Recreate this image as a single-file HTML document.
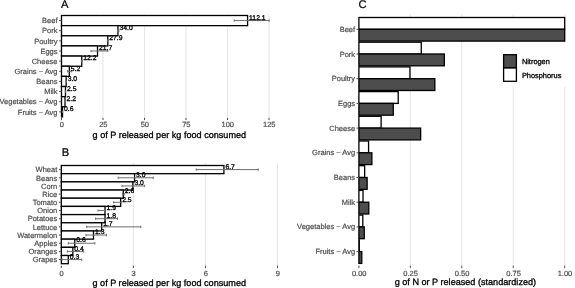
<!DOCTYPE html>
<html><head><meta charset="utf-8"><style>
html,body{margin:0;padding:0;background:#fff;width:575px;height:288px;overflow:hidden}
svg{display:block;will-change:transform}
text{font-family:"Liberation Sans", sans-serif;text-rendering:geometricPrecision}
</style></head><body>
<svg width="575" height="288" viewBox="0 0 575 288">
<rect x="0" y="0" width="575" height="288" fill="#fff"/>
<line x1="103.00" y1="14.30" x2="103.00" y2="117.80" stroke="#E6E6E6" stroke-width="1.1"/>
<line x1="144.50" y1="14.30" x2="144.50" y2="117.80" stroke="#E6E6E6" stroke-width="1.1"/>
<line x1="186.00" y1="14.30" x2="186.00" y2="117.80" stroke="#E6E6E6" stroke-width="1.1"/>
<line x1="227.50" y1="14.30" x2="227.50" y2="117.80" stroke="#E6E6E6" stroke-width="1.1"/>
<line x1="269.00" y1="14.30" x2="269.00" y2="117.80" stroke="#E6E6E6" stroke-width="1.1"/>
<rect x="61.50" y="15.50" width="186.09" height="10.14" fill="#fff" stroke="#000" stroke-width="1.3"/>
<rect x="61.50" y="25.64" width="56.44" height="10.14" fill="#fff" stroke="#000" stroke-width="1.3"/>
<rect x="61.50" y="35.79" width="46.31" height="10.14" fill="#fff" stroke="#000" stroke-width="1.3"/>
<rect x="61.50" y="45.94" width="36.02" height="10.14" fill="#fff" stroke="#000" stroke-width="1.3"/>
<rect x="61.50" y="56.08" width="20.25" height="10.14" fill="#fff" stroke="#000" stroke-width="1.3"/>
<rect x="61.50" y="66.22" width="7.80" height="10.14" fill="#fff" stroke="#000" stroke-width="1.3"/>
<rect x="61.50" y="76.37" width="4.65" height="10.14" fill="#fff" stroke="#000" stroke-width="1.3"/>
<rect x="61.50" y="86.52" width="3.98" height="10.14" fill="#fff" stroke="#000" stroke-width="1.3"/>
<rect x="61.50" y="96.66" width="3.49" height="10.14" fill="#fff" stroke="#000" stroke-width="1.3"/>
<rect x="61.50" y="106.80" width="1.00" height="10.14" fill="#fff" stroke="#000" stroke-width="1.3"/>
<line x1="234.31" y1="20.57" x2="269.17" y2="20.57" stroke="#6E6E6E" stroke-width="1.0"/>
<line x1="234.31" y1="19.37" x2="234.31" y2="21.77" stroke="#6E6E6E" stroke-width="1.0"/>
<line x1="269.17" y1="19.37" x2="269.17" y2="21.77" stroke="#6E6E6E" stroke-width="1.0"/>
<text x="249.09" y="19.77" font-size="6.8" fill="#000" stroke="#000" stroke-width="0.3" text-anchor="start" font-weight="normal">112.1</text>
<line x1="59.10" y1="20.57" x2="61.50" y2="20.57" stroke="#4D4D4D" stroke-width="1.0"/>
<text x="57.50" y="23.32" font-size="7.5" fill="#4D4D4D" stroke="#4D4D4D" stroke-width="0.2" text-anchor="end" font-weight="normal">Beef</text>
<line x1="117.44" y1="30.72" x2="118.94" y2="30.72" stroke="#6E6E6E" stroke-width="1.0"/>
<line x1="117.44" y1="29.52" x2="117.44" y2="31.92" stroke="#6E6E6E" stroke-width="1.0"/>
<line x1="118.94" y1="29.52" x2="118.94" y2="31.92" stroke="#6E6E6E" stroke-width="1.0"/>
<text x="119.44" y="29.92" font-size="6.8" fill="#000" stroke="#000" stroke-width="0.3" text-anchor="start" font-weight="normal">34.0</text>
<line x1="59.10" y1="30.72" x2="61.50" y2="30.72" stroke="#4D4D4D" stroke-width="1.0"/>
<text x="57.50" y="33.47" font-size="7.5" fill="#4D4D4D" stroke="#4D4D4D" stroke-width="0.2" text-anchor="end" font-weight="normal">Pork</text>
<line x1="107.32" y1="40.86" x2="108.31" y2="40.86" stroke="#6E6E6E" stroke-width="1.0"/>
<line x1="107.32" y1="39.66" x2="107.32" y2="42.06" stroke="#6E6E6E" stroke-width="1.0"/>
<line x1="108.31" y1="39.66" x2="108.31" y2="42.06" stroke="#6E6E6E" stroke-width="1.0"/>
<text x="109.31" y="40.06" font-size="6.8" fill="#000" stroke="#000" stroke-width="0.3" text-anchor="start" font-weight="normal">27.9</text>
<line x1="59.10" y1="40.86" x2="61.50" y2="40.86" stroke="#4D4D4D" stroke-width="1.0"/>
<text x="57.50" y="43.61" font-size="7.5" fill="#4D4D4D" stroke="#4D4D4D" stroke-width="0.2" text-anchor="end" font-weight="normal">Poultry</text>
<line x1="91.05" y1="51.01" x2="107.81" y2="51.01" stroke="#6E6E6E" stroke-width="1.0"/>
<line x1="91.05" y1="49.81" x2="91.05" y2="52.21" stroke="#6E6E6E" stroke-width="1.0"/>
<line x1="107.81" y1="49.81" x2="107.81" y2="52.21" stroke="#6E6E6E" stroke-width="1.0"/>
<text x="99.02" y="50.21" font-size="6.8" fill="#000" stroke="#000" stroke-width="0.3" text-anchor="start" font-weight="normal">21.7</text>
<line x1="59.10" y1="51.01" x2="61.50" y2="51.01" stroke="#4D4D4D" stroke-width="1.0"/>
<text x="57.50" y="53.76" font-size="7.5" fill="#4D4D4D" stroke="#4D4D4D" stroke-width="0.2" text-anchor="end" font-weight="normal">Eggs</text>
<line x1="81.42" y1="61.15" x2="82.25" y2="61.15" stroke="#6E6E6E" stroke-width="1.0"/>
<line x1="81.42" y1="59.95" x2="81.42" y2="62.35" stroke="#6E6E6E" stroke-width="1.0"/>
<line x1="82.25" y1="59.95" x2="82.25" y2="62.35" stroke="#6E6E6E" stroke-width="1.0"/>
<text x="83.25" y="60.35" font-size="6.8" fill="#000" stroke="#000" stroke-width="0.3" text-anchor="start" font-weight="normal">12.2</text>
<line x1="59.10" y1="61.15" x2="61.50" y2="61.15" stroke="#4D4D4D" stroke-width="1.0"/>
<text x="57.50" y="63.90" font-size="7.5" fill="#4D4D4D" stroke="#4D4D4D" stroke-width="0.2" text-anchor="end" font-weight="normal">Cheese</text>
<line x1="67.48" y1="71.30" x2="71.29" y2="71.30" stroke="#6E6E6E" stroke-width="1.0"/>
<line x1="67.48" y1="70.10" x2="67.48" y2="72.50" stroke="#6E6E6E" stroke-width="1.0"/>
<line x1="71.29" y1="70.10" x2="71.29" y2="72.50" stroke="#6E6E6E" stroke-width="1.0"/>
<text x="70.80" y="70.50" font-size="6.8" fill="#000" stroke="#000" stroke-width="0.3" text-anchor="start" font-weight="normal">5.2</text>
<line x1="59.10" y1="71.30" x2="61.50" y2="71.30" stroke="#4D4D4D" stroke-width="1.0"/>
<text x="57.50" y="74.05" font-size="7.5" fill="#4D4D4D" stroke="#4D4D4D" stroke-width="0.2" text-anchor="end" font-weight="normal">Grains − Avg</text>
<line x1="65.82" y1="81.44" x2="66.48" y2="81.44" stroke="#6E6E6E" stroke-width="1.0"/>
<line x1="65.82" y1="80.24" x2="65.82" y2="82.64" stroke="#6E6E6E" stroke-width="1.0"/>
<line x1="66.48" y1="80.24" x2="66.48" y2="82.64" stroke="#6E6E6E" stroke-width="1.0"/>
<text x="67.65" y="80.64" font-size="6.8" fill="#000" stroke="#000" stroke-width="0.3" text-anchor="start" font-weight="normal">3.0</text>
<line x1="59.10" y1="81.44" x2="61.50" y2="81.44" stroke="#4D4D4D" stroke-width="1.0"/>
<text x="57.50" y="84.19" font-size="7.5" fill="#4D4D4D" stroke="#4D4D4D" stroke-width="0.2" text-anchor="end" font-weight="normal">Beans</text>
<line x1="65.32" y1="91.59" x2="65.65" y2="91.59" stroke="#6E6E6E" stroke-width="1.0"/>
<line x1="65.32" y1="90.39" x2="65.32" y2="92.79" stroke="#6E6E6E" stroke-width="1.0"/>
<line x1="65.65" y1="90.39" x2="65.65" y2="92.79" stroke="#6E6E6E" stroke-width="1.0"/>
<text x="66.98" y="90.79" font-size="6.8" fill="#000" stroke="#000" stroke-width="0.3" text-anchor="start" font-weight="normal">2.5</text>
<line x1="59.10" y1="91.59" x2="61.50" y2="91.59" stroke="#4D4D4D" stroke-width="1.0"/>
<text x="57.50" y="94.34" font-size="7.5" fill="#4D4D4D" stroke="#4D4D4D" stroke-width="0.2" text-anchor="end" font-weight="normal">Milk</text>
<line x1="64.65" y1="101.73" x2="65.32" y2="101.73" stroke="#6E6E6E" stroke-width="1.0"/>
<line x1="64.65" y1="100.53" x2="64.65" y2="102.93" stroke="#6E6E6E" stroke-width="1.0"/>
<line x1="65.32" y1="100.53" x2="65.32" y2="102.93" stroke="#6E6E6E" stroke-width="1.0"/>
<text x="66.49" y="100.93" font-size="6.8" fill="#000" stroke="#000" stroke-width="0.3" text-anchor="start" font-weight="normal">2.2</text>
<line x1="59.10" y1="101.73" x2="61.50" y2="101.73" stroke="#4D4D4D" stroke-width="1.0"/>
<text x="57.50" y="104.48" font-size="7.5" fill="#4D4D4D" stroke="#4D4D4D" stroke-width="0.2" text-anchor="end" font-weight="normal">Vegetables − Avg</text>
<line x1="62.33" y1="111.88" x2="62.66" y2="111.88" stroke="#6E6E6E" stroke-width="1.0"/>
<line x1="62.33" y1="110.68" x2="62.33" y2="113.08" stroke="#6E6E6E" stroke-width="1.0"/>
<line x1="62.66" y1="110.68" x2="62.66" y2="113.08" stroke="#6E6E6E" stroke-width="1.0"/>
<text x="64.00" y="111.08" font-size="6.8" fill="#000" stroke="#000" stroke-width="0.3" text-anchor="start" font-weight="normal">0.6</text>
<line x1="59.10" y1="111.88" x2="61.50" y2="111.88" stroke="#4D4D4D" stroke-width="1.0"/>
<text x="57.50" y="114.63" font-size="7.5" fill="#4D4D4D" stroke="#4D4D4D" stroke-width="0.2" text-anchor="end" font-weight="normal">Fruits − Avg</text>
<line x1="61.50" y1="117.80" x2="61.50" y2="120.10" stroke="#4D4D4D" stroke-width="1.0"/>
<text x="61.80" y="127.20" font-size="7.5" fill="#4D4D4D" stroke="#4D4D4D" stroke-width="0.2" text-anchor="middle" font-weight="normal">0</text>
<line x1="103.00" y1="117.80" x2="103.00" y2="120.10" stroke="#4D4D4D" stroke-width="1.0"/>
<text x="103.30" y="127.20" font-size="7.5" fill="#4D4D4D" stroke="#4D4D4D" stroke-width="0.2" text-anchor="middle" font-weight="normal">25</text>
<line x1="144.50" y1="117.80" x2="144.50" y2="120.10" stroke="#4D4D4D" stroke-width="1.0"/>
<text x="144.80" y="127.20" font-size="7.5" fill="#4D4D4D" stroke="#4D4D4D" stroke-width="0.2" text-anchor="middle" font-weight="normal">50</text>
<line x1="186.00" y1="117.80" x2="186.00" y2="120.10" stroke="#4D4D4D" stroke-width="1.0"/>
<text x="186.30" y="127.20" font-size="7.5" fill="#4D4D4D" stroke="#4D4D4D" stroke-width="0.2" text-anchor="middle" font-weight="normal">75</text>
<line x1="227.50" y1="117.80" x2="227.50" y2="120.10" stroke="#4D4D4D" stroke-width="1.0"/>
<text x="227.80" y="127.20" font-size="7.5" fill="#4D4D4D" stroke="#4D4D4D" stroke-width="0.2" text-anchor="middle" font-weight="normal">100</text>
<line x1="269.00" y1="117.80" x2="269.00" y2="120.10" stroke="#4D4D4D" stroke-width="1.0"/>
<text x="269.30" y="127.20" font-size="7.5" fill="#4D4D4D" stroke="#4D4D4D" stroke-width="0.2" text-anchor="middle" font-weight="normal">125</text>
<text x="169.35" y="137.60" font-size="9.1" fill="#000" stroke="#000" stroke-width="0.3" text-anchor="middle" font-weight="normal">g of P released per kg food consumed</text>
<text x="61.00" y="7.70" font-size="11.2" fill="#000" stroke="#000" stroke-width="0.2" text-anchor="start" font-weight="normal">A</text>
<line x1="133.36" y1="162.80" x2="133.36" y2="265.60" stroke="#E6E6E6" stroke-width="1.1"/>
<line x1="205.42" y1="162.80" x2="205.42" y2="265.60" stroke="#E6E6E6" stroke-width="1.1"/>
<line x1="277.48" y1="162.80" x2="277.48" y2="265.60" stroke="#E6E6E6" stroke-width="1.1"/>
<rect x="61.30" y="165.50" width="162.62" height="8.18" fill="#fff" stroke="#000" stroke-width="1.3"/>
<rect x="61.30" y="173.68" width="73.26" height="8.18" fill="#fff" stroke="#000" stroke-width="1.3"/>
<rect x="61.30" y="181.87" width="71.58" height="8.18" fill="#fff" stroke="#000" stroke-width="1.3"/>
<rect x="61.30" y="190.05" width="61.97" height="8.18" fill="#fff" stroke="#000" stroke-width="1.3"/>
<rect x="61.30" y="198.23" width="59.33" height="8.18" fill="#fff" stroke="#000" stroke-width="1.3"/>
<rect x="61.30" y="206.41" width="43.72" height="8.18" fill="#fff" stroke="#000" stroke-width="1.3"/>
<rect x="61.30" y="214.60" width="43.72" height="8.18" fill="#fff" stroke="#000" stroke-width="1.3"/>
<rect x="61.30" y="222.78" width="40.35" height="8.18" fill="#fff" stroke="#000" stroke-width="1.3"/>
<rect x="61.30" y="230.96" width="32.19" height="8.18" fill="#fff" stroke="#000" stroke-width="1.3"/>
<rect x="61.30" y="239.15" width="13.45" height="8.18" fill="#fff" stroke="#000" stroke-width="1.3"/>
<rect x="61.30" y="247.33" width="11.53" height="8.18" fill="#fff" stroke="#000" stroke-width="1.3"/>
<rect x="61.30" y="255.51" width="6.97" height="8.18" fill="#fff" stroke="#000" stroke-width="1.3"/>
<line x1="196.17" y1="169.59" x2="258.26" y2="169.59" stroke="#6E6E6E" stroke-width="1.0"/>
<line x1="196.17" y1="168.39" x2="196.17" y2="170.79" stroke="#6E6E6E" stroke-width="1.0"/>
<line x1="258.26" y1="168.39" x2="258.26" y2="170.79" stroke="#6E6E6E" stroke-width="1.0"/>
<text x="225.42" y="168.79" font-size="6.8" fill="#000" stroke="#000" stroke-width="0.3" text-anchor="start" font-weight="normal">6.7</text>
<line x1="58.90" y1="169.59" x2="61.30" y2="169.59" stroke="#4D4D4D" stroke-width="1.0"/>
<text x="57.30" y="172.34" font-size="7.5" fill="#4D4D4D" stroke="#4D4D4D" stroke-width="0.2" text-anchor="end" font-weight="normal">Wheat</text>
<line x1="118.23" y1="177.77" x2="153.30" y2="177.77" stroke="#6E6E6E" stroke-width="1.0"/>
<line x1="118.23" y1="176.57" x2="118.23" y2="178.97" stroke="#6E6E6E" stroke-width="1.0"/>
<line x1="153.30" y1="176.57" x2="153.30" y2="178.97" stroke="#6E6E6E" stroke-width="1.0"/>
<text x="136.06" y="176.97" font-size="6.8" fill="#000" stroke="#000" stroke-width="0.3" text-anchor="start" font-weight="normal">3.0</text>
<line x1="58.90" y1="177.77" x2="61.30" y2="177.77" stroke="#4D4D4D" stroke-width="1.0"/>
<text x="57.30" y="180.52" font-size="7.5" fill="#4D4D4D" stroke="#4D4D4D" stroke-width="0.2" text-anchor="end" font-weight="normal">Beans</text>
<line x1="122.07" y1="185.96" x2="144.65" y2="185.96" stroke="#6E6E6E" stroke-width="1.0"/>
<line x1="122.07" y1="184.76" x2="122.07" y2="187.16" stroke="#6E6E6E" stroke-width="1.0"/>
<line x1="144.65" y1="184.76" x2="144.65" y2="187.16" stroke="#6E6E6E" stroke-width="1.0"/>
<text x="134.38" y="185.16" font-size="6.8" fill="#000" stroke="#000" stroke-width="0.3" text-anchor="start" font-weight="normal">3.0</text>
<line x1="58.90" y1="185.96" x2="61.30" y2="185.96" stroke="#4D4D4D" stroke-width="1.0"/>
<text x="57.30" y="188.71" font-size="7.5" fill="#4D4D4D" stroke="#4D4D4D" stroke-width="0.2" text-anchor="end" font-weight="normal">Corn</text>
<line x1="122.55" y1="194.14" x2="124.23" y2="194.14" stroke="#6E6E6E" stroke-width="1.0"/>
<line x1="122.55" y1="192.94" x2="122.55" y2="195.34" stroke="#6E6E6E" stroke-width="1.0"/>
<line x1="124.23" y1="192.94" x2="124.23" y2="195.34" stroke="#6E6E6E" stroke-width="1.0"/>
<text x="124.77" y="193.34" font-size="6.8" fill="#000" stroke="#000" stroke-width="0.3" text-anchor="start" font-weight="normal">2.6</text>
<line x1="58.90" y1="194.14" x2="61.30" y2="194.14" stroke="#4D4D4D" stroke-width="1.0"/>
<text x="57.30" y="196.89" font-size="7.5" fill="#4D4D4D" stroke="#4D4D4D" stroke-width="0.2" text-anchor="end" font-weight="normal">Rice</text>
<line x1="113.66" y1="202.32" x2="121.35" y2="202.32" stroke="#6E6E6E" stroke-width="1.0"/>
<line x1="113.66" y1="201.12" x2="113.66" y2="203.52" stroke="#6E6E6E" stroke-width="1.0"/>
<line x1="121.35" y1="201.12" x2="121.35" y2="203.52" stroke="#6E6E6E" stroke-width="1.0"/>
<text x="122.13" y="201.52" font-size="6.8" fill="#000" stroke="#000" stroke-width="0.3" text-anchor="start" font-weight="normal">2.5</text>
<line x1="58.90" y1="202.32" x2="61.30" y2="202.32" stroke="#4D4D4D" stroke-width="1.0"/>
<text x="57.30" y="205.07" font-size="7.5" fill="#4D4D4D" stroke="#4D4D4D" stroke-width="0.2" text-anchor="end" font-weight="normal">Tomato</text>
<line x1="98.05" y1="210.51" x2="105.02" y2="210.51" stroke="#6E6E6E" stroke-width="1.0"/>
<line x1="98.05" y1="209.31" x2="98.05" y2="211.71" stroke="#6E6E6E" stroke-width="1.0"/>
<line x1="105.02" y1="209.31" x2="105.02" y2="211.71" stroke="#6E6E6E" stroke-width="1.0"/>
<text x="106.52" y="209.71" font-size="6.8" fill="#000" stroke="#000" stroke-width="0.3" text-anchor="start" font-weight="normal">1.9</text>
<line x1="58.90" y1="210.51" x2="61.30" y2="210.51" stroke="#4D4D4D" stroke-width="1.0"/>
<text x="57.30" y="213.26" font-size="7.5" fill="#4D4D4D" stroke="#4D4D4D" stroke-width="0.2" text-anchor="end" font-weight="normal">Onion</text>
<line x1="95.65" y1="218.69" x2="117.51" y2="218.69" stroke="#6E6E6E" stroke-width="1.0"/>
<line x1="95.65" y1="217.49" x2="95.65" y2="219.89" stroke="#6E6E6E" stroke-width="1.0"/>
<line x1="117.51" y1="217.49" x2="117.51" y2="219.89" stroke="#6E6E6E" stroke-width="1.0"/>
<text x="106.52" y="217.89" font-size="6.8" fill="#000" stroke="#000" stroke-width="0.3" text-anchor="start" font-weight="normal">1.8</text>
<line x1="58.90" y1="218.69" x2="61.30" y2="218.69" stroke="#4D4D4D" stroke-width="1.0"/>
<text x="57.30" y="221.44" font-size="7.5" fill="#4D4D4D" stroke="#4D4D4D" stroke-width="0.2" text-anchor="end" font-weight="normal">Potatoes</text>
<line x1="86.76" y1="226.87" x2="140.81" y2="226.87" stroke="#6E6E6E" stroke-width="1.0"/>
<line x1="86.76" y1="225.67" x2="86.76" y2="228.07" stroke="#6E6E6E" stroke-width="1.0"/>
<line x1="140.81" y1="225.67" x2="140.81" y2="228.07" stroke="#6E6E6E" stroke-width="1.0"/>
<text x="103.15" y="226.07" font-size="6.8" fill="#000" stroke="#000" stroke-width="0.3" text-anchor="start" font-weight="normal">1.7</text>
<line x1="58.90" y1="226.87" x2="61.30" y2="226.87" stroke="#4D4D4D" stroke-width="1.0"/>
<text x="57.30" y="229.62" font-size="7.5" fill="#4D4D4D" stroke="#4D4D4D" stroke-width="0.2" text-anchor="end" font-weight="normal">Lettuce</text>
<line x1="86.04" y1="235.06" x2="106.46" y2="235.06" stroke="#6E6E6E" stroke-width="1.0"/>
<line x1="86.04" y1="233.86" x2="86.04" y2="236.26" stroke="#6E6E6E" stroke-width="1.0"/>
<line x1="106.46" y1="233.86" x2="106.46" y2="236.26" stroke="#6E6E6E" stroke-width="1.0"/>
<text x="94.99" y="234.26" font-size="6.8" fill="#000" stroke="#000" stroke-width="0.3" text-anchor="start" font-weight="normal">1.3</text>
<line x1="58.90" y1="235.06" x2="61.30" y2="235.06" stroke="#4D4D4D" stroke-width="1.0"/>
<text x="57.30" y="237.81" font-size="7.5" fill="#4D4D4D" stroke="#4D4D4D" stroke-width="0.2" text-anchor="end" font-weight="normal">Watermelon</text>
<line x1="68.27" y1="243.24" x2="94.93" y2="243.24" stroke="#6E6E6E" stroke-width="1.0"/>
<line x1="68.27" y1="242.04" x2="68.27" y2="244.44" stroke="#6E6E6E" stroke-width="1.0"/>
<line x1="94.93" y1="242.04" x2="94.93" y2="244.44" stroke="#6E6E6E" stroke-width="1.0"/>
<text x="76.25" y="242.44" font-size="6.8" fill="#000" stroke="#000" stroke-width="0.3" text-anchor="start" font-weight="normal">0.6</text>
<line x1="58.90" y1="243.24" x2="61.30" y2="243.24" stroke="#4D4D4D" stroke-width="1.0"/>
<text x="57.30" y="245.99" font-size="7.5" fill="#4D4D4D" stroke="#4D4D4D" stroke-width="0.2" text-anchor="end" font-weight="normal">Apples</text>
<line x1="67.30" y1="251.42" x2="83.64" y2="251.42" stroke="#6E6E6E" stroke-width="1.0"/>
<line x1="67.30" y1="250.22" x2="67.30" y2="252.62" stroke="#6E6E6E" stroke-width="1.0"/>
<line x1="83.64" y1="250.22" x2="83.64" y2="252.62" stroke="#6E6E6E" stroke-width="1.0"/>
<text x="74.33" y="250.62" font-size="6.8" fill="#000" stroke="#000" stroke-width="0.3" text-anchor="start" font-weight="normal">0.4</text>
<line x1="58.90" y1="251.42" x2="61.30" y2="251.42" stroke="#4D4D4D" stroke-width="1.0"/>
<text x="57.30" y="254.17" font-size="7.5" fill="#4D4D4D" stroke="#4D4D4D" stroke-width="0.2" text-anchor="end" font-weight="normal">Oranges</text>
<line x1="62.02" y1="259.60" x2="81.72" y2="259.60" stroke="#6E6E6E" stroke-width="1.0"/>
<line x1="62.02" y1="258.40" x2="62.02" y2="260.80" stroke="#6E6E6E" stroke-width="1.0"/>
<line x1="81.72" y1="258.40" x2="81.72" y2="260.80" stroke="#6E6E6E" stroke-width="1.0"/>
<text x="69.77" y="258.80" font-size="6.8" fill="#000" stroke="#000" stroke-width="0.3" text-anchor="start" font-weight="normal">0.3</text>
<line x1="58.90" y1="259.60" x2="61.30" y2="259.60" stroke="#4D4D4D" stroke-width="1.0"/>
<text x="57.30" y="262.35" font-size="7.5" fill="#4D4D4D" stroke="#4D4D4D" stroke-width="0.2" text-anchor="end" font-weight="normal">Grapes</text>
<line x1="61.30" y1="265.60" x2="61.30" y2="268.10" stroke="#4D4D4D" stroke-width="1.0"/>
<text x="61.60" y="275.50" font-size="7.5" fill="#4D4D4D" stroke="#4D4D4D" stroke-width="0.2" text-anchor="middle" font-weight="normal">0</text>
<line x1="133.36" y1="265.60" x2="133.36" y2="268.10" stroke="#4D4D4D" stroke-width="1.0"/>
<text x="133.66" y="275.50" font-size="7.5" fill="#4D4D4D" stroke="#4D4D4D" stroke-width="0.2" text-anchor="middle" font-weight="normal">3</text>
<line x1="205.42" y1="265.60" x2="205.42" y2="268.10" stroke="#4D4D4D" stroke-width="1.0"/>
<text x="205.72" y="275.50" font-size="7.5" fill="#4D4D4D" stroke="#4D4D4D" stroke-width="0.2" text-anchor="middle" font-weight="normal">6</text>
<line x1="277.48" y1="265.60" x2="277.48" y2="268.10" stroke="#4D4D4D" stroke-width="1.0"/>
<text x="277.78" y="275.50" font-size="7.5" fill="#4D4D4D" stroke="#4D4D4D" stroke-width="0.2" text-anchor="middle" font-weight="normal">9</text>
<text x="169.25" y="285.50" font-size="9.1" fill="#000" stroke="#000" stroke-width="0.3" text-anchor="middle" font-weight="normal">g of P released per kg food consumed</text>
<text x="61.70" y="156.10" font-size="11.2" fill="#000" stroke="#000" stroke-width="0.2" text-anchor="start" font-weight="normal">B</text>
<line x1="410.35" y1="14.50" x2="410.35" y2="265.60" stroke="#E6E6E6" stroke-width="1.1"/>
<line x1="461.80" y1="14.50" x2="461.80" y2="265.60" stroke="#E6E6E6" stroke-width="1.1"/>
<line x1="513.25" y1="14.50" x2="513.25" y2="265.60" stroke="#E6E6E6" stroke-width="1.1"/>
<line x1="564.70" y1="14.50" x2="564.70" y2="265.60" stroke="#E6E6E6" stroke-width="1.1"/>
<rect x="358.90" y="17.50" width="205.80" height="11.80" fill="#fff" stroke="#000" stroke-width="1.3"/>
<rect x="358.90" y="29.30" width="205.80" height="11.80" fill="#4D4D4D" stroke="#000" stroke-width="1.3"/>
<rect x="358.90" y="42.20" width="62.36" height="11.80" fill="#fff" stroke="#000" stroke-width="1.3"/>
<rect x="358.90" y="54.00" width="85.41" height="11.80" fill="#4D4D4D" stroke="#000" stroke-width="1.3"/>
<rect x="358.90" y="66.90" width="51.04" height="11.80" fill="#fff" stroke="#000" stroke-width="1.3"/>
<rect x="358.90" y="78.70" width="75.94" height="11.80" fill="#4D4D4D" stroke="#000" stroke-width="1.3"/>
<rect x="358.90" y="91.60" width="39.31" height="11.80" fill="#fff" stroke="#000" stroke-width="1.3"/>
<rect x="358.90" y="103.40" width="34.37" height="11.80" fill="#4D4D4D" stroke="#000" stroke-width="1.3"/>
<rect x="358.90" y="116.30" width="22.23" height="11.80" fill="#fff" stroke="#000" stroke-width="1.3"/>
<rect x="358.90" y="128.10" width="61.74" height="11.80" fill="#4D4D4D" stroke="#000" stroke-width="1.3"/>
<rect x="358.90" y="141.00" width="9.67" height="11.80" fill="#fff" stroke="#000" stroke-width="1.3"/>
<rect x="358.90" y="152.80" width="12.97" height="11.80" fill="#4D4D4D" stroke="#000" stroke-width="1.3"/>
<rect x="358.90" y="165.70" width="5.76" height="11.80" fill="#fff" stroke="#000" stroke-width="1.3"/>
<rect x="358.90" y="177.50" width="8.23" height="11.80" fill="#4D4D4D" stroke="#000" stroke-width="1.3"/>
<rect x="358.90" y="190.40" width="4.12" height="11.80" fill="#fff" stroke="#000" stroke-width="1.3"/>
<rect x="358.90" y="202.20" width="9.88" height="11.80" fill="#4D4D4D" stroke="#000" stroke-width="1.3"/>
<rect x="358.90" y="215.10" width="3.91" height="11.80" fill="#fff" stroke="#000" stroke-width="1.3"/>
<rect x="358.90" y="226.90" width="5.35" height="11.80" fill="#4D4D4D" stroke="#000" stroke-width="1.3"/>
<rect x="358.90" y="239.80" width="0.41" height="11.80" fill="#fff" stroke="#000" stroke-width="1.3"/>
<rect x="358.90" y="251.60" width="2.88" height="11.80" fill="#4D4D4D" stroke="#000" stroke-width="1.3"/>
<line x1="356.50" y1="29.30" x2="358.90" y2="29.30" stroke="#4D4D4D" stroke-width="1.0"/>
<text x="355.10" y="31.85" font-size="7.5" fill="#4D4D4D" stroke="#4D4D4D" stroke-width="0.2" text-anchor="end" font-weight="normal">Beef</text>
<line x1="356.50" y1="54.00" x2="358.90" y2="54.00" stroke="#4D4D4D" stroke-width="1.0"/>
<text x="355.10" y="56.55" font-size="7.5" fill="#4D4D4D" stroke="#4D4D4D" stroke-width="0.2" text-anchor="end" font-weight="normal">Pork</text>
<line x1="356.50" y1="78.70" x2="358.90" y2="78.70" stroke="#4D4D4D" stroke-width="1.0"/>
<text x="355.10" y="81.25" font-size="7.5" fill="#4D4D4D" stroke="#4D4D4D" stroke-width="0.2" text-anchor="end" font-weight="normal">Poultry</text>
<line x1="356.50" y1="103.40" x2="358.90" y2="103.40" stroke="#4D4D4D" stroke-width="1.0"/>
<text x="355.10" y="105.95" font-size="7.5" fill="#4D4D4D" stroke="#4D4D4D" stroke-width="0.2" text-anchor="end" font-weight="normal">Eggs</text>
<line x1="356.50" y1="128.10" x2="358.90" y2="128.10" stroke="#4D4D4D" stroke-width="1.0"/>
<text x="355.10" y="130.65" font-size="7.5" fill="#4D4D4D" stroke="#4D4D4D" stroke-width="0.2" text-anchor="end" font-weight="normal">Cheese</text>
<line x1="356.50" y1="152.80" x2="358.90" y2="152.80" stroke="#4D4D4D" stroke-width="1.0"/>
<text x="355.10" y="155.35" font-size="7.5" fill="#4D4D4D" stroke="#4D4D4D" stroke-width="0.2" text-anchor="end" font-weight="normal">Grains − Avg</text>
<line x1="356.50" y1="177.50" x2="358.90" y2="177.50" stroke="#4D4D4D" stroke-width="1.0"/>
<text x="355.10" y="180.05" font-size="7.5" fill="#4D4D4D" stroke="#4D4D4D" stroke-width="0.2" text-anchor="end" font-weight="normal">Beans</text>
<line x1="356.50" y1="202.20" x2="358.90" y2="202.20" stroke="#4D4D4D" stroke-width="1.0"/>
<text x="355.10" y="204.75" font-size="7.5" fill="#4D4D4D" stroke="#4D4D4D" stroke-width="0.2" text-anchor="end" font-weight="normal">Milk</text>
<line x1="356.50" y1="226.90" x2="358.90" y2="226.90" stroke="#4D4D4D" stroke-width="1.0"/>
<text x="355.10" y="229.45" font-size="7.5" fill="#4D4D4D" stroke="#4D4D4D" stroke-width="0.2" text-anchor="end" font-weight="normal">Vegetables − Avg</text>
<line x1="356.50" y1="251.60" x2="358.90" y2="251.60" stroke="#4D4D4D" stroke-width="1.0"/>
<text x="355.10" y="254.15" font-size="7.5" fill="#4D4D4D" stroke="#4D4D4D" stroke-width="0.2" text-anchor="end" font-weight="normal">Fruits − Avg</text>
<line x1="358.90" y1="265.60" x2="358.90" y2="268.10" stroke="#4D4D4D" stroke-width="1.0"/>
<text x="359.20" y="275.70" font-size="7.5" fill="#4D4D4D" stroke="#4D4D4D" stroke-width="0.2" text-anchor="middle" font-weight="normal">0.00</text>
<line x1="410.35" y1="265.60" x2="410.35" y2="268.10" stroke="#4D4D4D" stroke-width="1.0"/>
<text x="410.65" y="275.70" font-size="7.5" fill="#4D4D4D" stroke="#4D4D4D" stroke-width="0.2" text-anchor="middle" font-weight="normal">0.25</text>
<line x1="461.80" y1="265.60" x2="461.80" y2="268.10" stroke="#4D4D4D" stroke-width="1.0"/>
<text x="462.10" y="275.70" font-size="7.5" fill="#4D4D4D" stroke="#4D4D4D" stroke-width="0.2" text-anchor="middle" font-weight="normal">0.50</text>
<line x1="513.25" y1="265.60" x2="513.25" y2="268.10" stroke="#4D4D4D" stroke-width="1.0"/>
<text x="513.55" y="275.70" font-size="7.5" fill="#4D4D4D" stroke="#4D4D4D" stroke-width="0.2" text-anchor="middle" font-weight="normal">0.75</text>
<line x1="564.70" y1="265.60" x2="564.70" y2="268.10" stroke="#4D4D4D" stroke-width="1.0"/>
<text x="565.00" y="275.70" font-size="7.5" fill="#4D4D4D" stroke="#4D4D4D" stroke-width="0.2" text-anchor="middle" font-weight="normal">1.00</text>
<text x="465.40" y="285.40" font-size="9.1" fill="#000" stroke="#000" stroke-width="0.3" text-anchor="middle" font-weight="normal">g of N or P released (standardized)</text>
<text x="358.60" y="7.70" font-size="11.2" fill="#000" stroke="#000" stroke-width="0.2" text-anchor="start" font-weight="normal">C</text>
<rect x="498.90" y="42.30" width="68.50" height="44.30" fill="#fff" stroke="none" stroke-width="0"/>
<rect x="503.60" y="54.70" width="12.80" height="13.30" fill="#4D4D4D" stroke="#000" stroke-width="1.3"/>
<rect x="503.60" y="68.00" width="12.80" height="13.30" fill="#fff" stroke="#000" stroke-width="1.3"/>
<text x="521.90" y="63.90" font-size="7.4" fill="#000" stroke="#000" stroke-width="0.3" text-anchor="start" font-weight="normal">Nitrogen</text>
<text x="521.90" y="77.60" font-size="7.4" fill="#000" stroke="#000" stroke-width="0.3" text-anchor="start" font-weight="normal">Phosphorus</text>
</svg>
</body></html>
